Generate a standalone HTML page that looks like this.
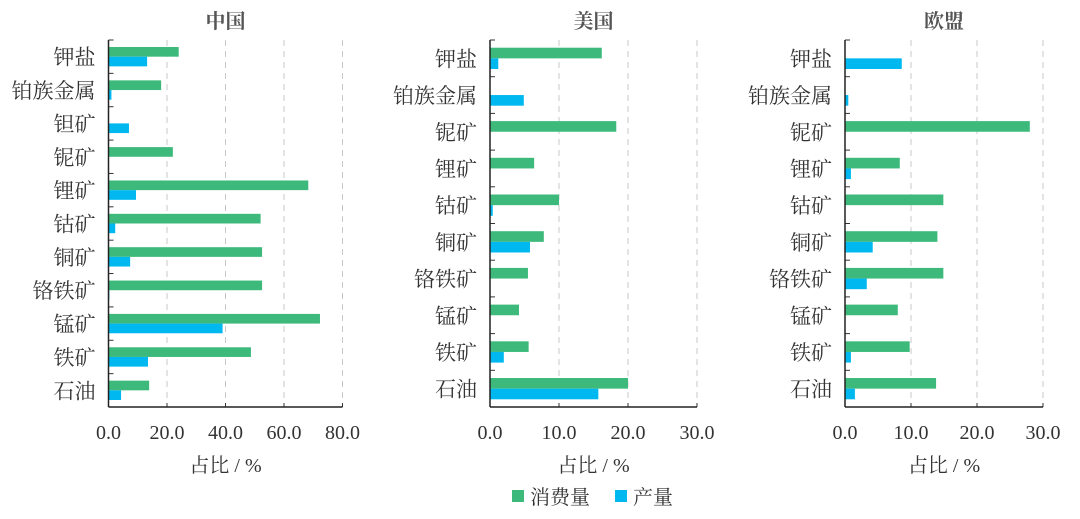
<!DOCTYPE html>
<html><head><meta charset="utf-8"><style>
body{margin:0;background:#fff;width:1080px;height:514px;overflow:hidden}
text{font-family:"Liberation Serif","Noto Serif CJK SC","Noto Sans CJK SC",serif;fill:#333}
</style></head><body>
<svg id="s" width="1080" height="514" xmlns="http://www.w3.org/2000/svg"></svg>
<script>
(function(){
const cats=[["钾盐","铂族金属","钽矿","铌矿","锂矿","钴矿","铜矿","铬铁矿","锰矿","铁矿","石油"],
["钾盐","铂族金属","铌矿","锂矿","钴矿","铜矿","铬铁矿","锰矿","铁矿","石油"],
["钾盐","铂族金属","铌矿","锂矿","钴矿","铜矿","铬铁矿","锰矿","铁矿","石油"]];
const panels=[
{t:"中国",x0:108.5,ppu:2.925,ticks:[0,20,40,60,80],cats:cats[0],
 g:[24,18,0,22,68.3,52,52.5,52.5,72.3,48.7,13.9],b:[13.2,1,7,0,9.4,2.3,7.4,0.3,39,13.5,4.3]},
{t:"美国",x0:490,ppu:6.9,ticks:[0,10,20,30],cats:cats[1],
 g:[16.2,0,18.3,6.4,10,7.8,5.5,4.2,5.6,20],b:[1.2,4.9,0,0,0.4,5.8,0,0,2,15.7]},
{t:"欧盟",x0:845,ppu:6.6,ticks:[0,10,20,30],cats:cats[2],
 g:[0,0,28,8.3,14.9,14,14.9,8,9.8,13.8],b:[8.6,0.5,0,0.9,0,4.2,3.3,0,0.9,1.5]}];
let h="";const yt=40,yb=407;
for(const p of panels){
 const n=p.cats.length,band=(yb-yt)/n,xe=p.x0+p.ppu*p.ticks[p.ticks.length-1];
 for(const t of p.ticks){const x=p.x0+t*p.ppu;
  if(t>0)h+=`<line x1="${x}" y1="${yt}" x2="${x}" y2="${yb}" stroke="#c8c8c8" stroke-dasharray="6,5"/>`;
  h+=`<line x1="${x}" y1="${yb}" x2="${x}" y2="${yb-4}" stroke="#333"/>`;
  h+=`<text x="${x}" y="439" font-size="20" text-anchor="middle">${t.toFixed(1)}</text>`;}
 const bh=band*0.29,off=(band-2*bh)/2;
 p.cats.forEach((c,i)=>{const y=yt+i*band;
  h+=`<line x1="${p.x0}" y1="${y}" x2="${p.x0+5}" y2="${y}" stroke="#333"/>`;
  if(p.g[i])h+=`<rect x="${p.x0}" y="${y+off}" width="${p.g[i]*p.ppu}" height="${bh}" fill="#3dba7b"/>`;
  if(p.b[i])h+=`<rect x="${p.x0}" y="${y+off+bh}" width="${p.b[i]*p.ppu}" height="${bh}" fill="#00b8f0"/>`;
  h+=`<text x="${p.x0-13}" y="${y+band/2+8}" font-size="21" text-anchor="end">${c}</text>`;});
 h+=`<line x1="${p.x0}" y1="${yt}" x2="${p.x0}" y2="${yb}" stroke="#222" stroke-width="1.5"/>`;
 h+=`<line x1="${p.x0}" y1="${yb}" x2="${xe}" y2="${yb}" stroke="#222" stroke-width="1.5"/>`;
 const cx=(p.x0+xe)/2;
 h+=`<text x="${cx}" y="28" font-size="20" font-weight="bold" style="fill:#555" text-anchor="middle">${p.t}</text>`;
 h+=`<text x="${cx}" y="472" font-size="20" text-anchor="middle">占比 / %</text>`;
}
h+=`<rect x="512" y="490" width="12" height="12" fill="#3dba7b"/><text x="530" y="504" font-size="20">消费量</text>`;
h+=`<rect x="615" y="490" width="12" height="12" fill="#00b8f0"/><text x="633" y="504" font-size="20">产量</text>`;
document.getElementById("s").innerHTML=h;
})();
</script>
</body></html>
